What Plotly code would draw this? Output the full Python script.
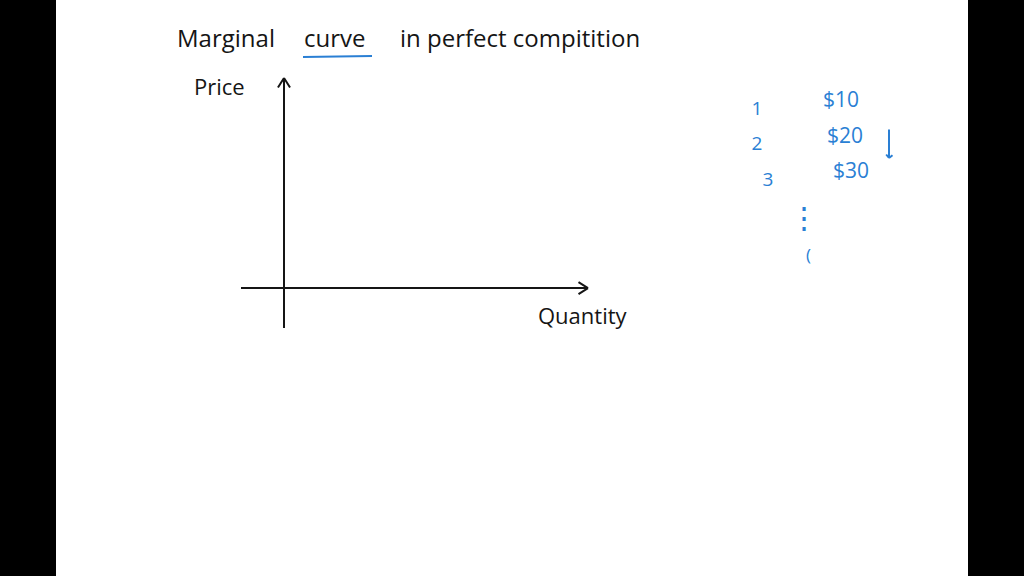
import plotly.graph_objects as go

# table written on the right of the board
quantities = [1, 2, 3]
prices = [10, 20, 30]

title_words = ["Marginal", "curve", "in perfect compitition"]
x_label = "Quantity"
y_label = "Price"

W, H = 1024, 576
INK = "#151515"
BLUE = "#2a7fd4"
FONT = "Open Sans"


def px(x):
    return x / W


def py(y):
    return 1 - y / H


fig = go.Figure()

# empty trace so the hand-drawn axes subplot exists
fig.add_trace(go.Scatter(x=[], y=[], xaxis="x", yaxis="y", showlegend=False))

# quantity / price table on its own hidden axes
fig.add_trace(go.Scatter(
    x=[757, 757, 768], y=[q + 0.17 for q in quantities], mode="text",
    text=[str(q) for q in quantities],
    textfont=dict(family=FONT, size=19, color=BLUE),
    xaxis="x2", yaxis="y2", showlegend=False, hoverinfo="skip"))
fig.add_trace(go.Scatter(
    x=[841, 845, 851], y=[q - 0.06 for q in quantities], mode="text",
    text=["$" + str(p) for p in prices],
    textfont=dict(family=FONT, size=21, color=BLUE),
    xaxis="x2", yaxis="y2", showlegend=False, hoverinfo="skip"))

x_rng = [-1, 7.07]
y_rng = [-7.6, 40]

annotations = []
# title, split so "curve" can be underlined
for word, left in zip(title_words, [175, 302, 398]):
    annotations.append(dict(text=word, x=px(left), y=py(38), xref="paper", yref="paper",
                            xanchor="left", yanchor="middle", showarrow=False,
                            font=dict(family=FONT, size=24, color=INK)))
annotations.append(dict(text=y_label, x=px(192), y=py(86), xref="paper", yref="paper",
                        xanchor="left", yanchor="middle", showarrow=False,
                        font=dict(family=FONT, size=22, color=INK)))
annotations.append(dict(text=x_label, x=px(536), y=py(315), xref="paper", yref="paper",
                        xanchor="left", yanchor="middle", showarrow=False,
                        font=dict(family=FONT, size=22, color=INK)))

# open arrowheads on the axes
for ax_off, ay_off in [(-7, 11), (7, 11)]:
    annotations.append(dict(x=0, y=y_rng[1], xref="x", yref="y", text="", showarrow=True,
                            ax=ax_off, ay=ay_off, arrowhead=0, arrowwidth=2,
                            arrowcolor=INK, standoff=0, startstandoff=0))
for ax_off, ay_off in [(-11, -7), (-11, 7)]:
    annotations.append(dict(x=x_rng[1], y=0, xref="x", yref="y", text="", showarrow=True,
                            ax=ax_off, ay=ay_off, arrowhead=0, arrowwidth=2,
                            arrowcolor=INK, standoff=0, startstandoff=0))

# blue down arrow next to the prices
for ax_off, ay_off in [(0, -30), (-4, -5), (5, -4)]:
    annotations.append(dict(x=px(889), y=py(158), xref="paper", yref="paper", text="",
                            showarrow=True, ax=ax_off, ay=ay_off, arrowhead=0,
                            arrowwidth=2, arrowcolor=BLUE, standoff=0, startstandoff=0))

# vertical dots below the table
annotations.append(dict(text="⋮", x=px(821), y=py(216), xref="paper", yref="paper",
                        showarrow=False, font=dict(family=FONT, size=30, color=BLUE)))
annotations.append(dict(text="(", x=px(813), y=py(254), xref="paper", yref="paper",
                        showarrow=False, font=dict(family=FONT, size=17, color=BLUE)))

fig.update_layout(
    width=W, height=H,
    margin=dict(l=0, r=0, t=0, b=0),
    paper_bgcolor="black",
    plot_bgcolor="rgba(0,0,0,0)",
    showlegend=False,
    xaxis=dict(domain=[px(241), px(588)], range=x_rng, showgrid=False,
               showticklabels=False, ticks="", showline=False,
               zeroline=True, zerolinecolor=INK, zerolinewidth=2, fixedrange=True),
    yaxis=dict(domain=[py(328), py(78)], range=y_rng, showgrid=False,
               showticklabels=False, ticks="", showline=False,
               zeroline=True, zerolinecolor=INK, zerolinewidth=2, fixedrange=True),
    xaxis2=dict(domain=[px(740), px(900)], range=[740, 900], visible=False,
                anchor="y2"),
    yaxis2=dict(domain=[py(190), py(90)], range=[3.42, 0.606], visible=False,
                anchor="x2"),
    shapes=[
        dict(type="rect", xref="paper", yref="paper", x0=px(56), x1=px(968), y0=0, y1=1,
             fillcolor="white", line=dict(width=0), layer="below"),
        dict(type="line", xref="paper", yref="paper", x0=px(303), x1=px(372),
             y0=py(57), y1=py(56), line=dict(color=BLUE, width=2)),
    ],
    annotations=annotations,
)

# drop the page margin so the figure fills the window exactly
fig.write_html("out.html", config={"displayModeBar": False},
               post_script="document.body.style.margin='0';")
